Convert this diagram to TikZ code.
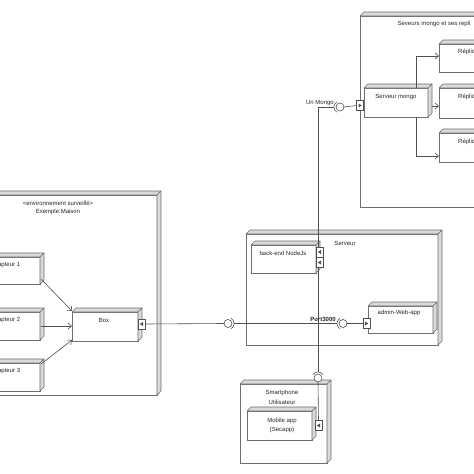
\documentclass[tikz,border=0pt]{standalone}
\usepackage{fontspec}
\setmainfont{Liberation Sans}
\usetikzlibrary{arrows.meta}
\definecolor{edgec}{HTML}{6E6E6E}
\definecolor{facec}{HTML}{DADADA}
\definecolor{wirec}{HTML}{505050}
\tikzset{
 umlbox/.style={draw=edgec, fill=white, line width=0.6pt, inner sep=0pt, outer sep=0pt, anchor=north west},
 face/.style={draw=edgec, fill=facec, line width=0.6pt, line join=round},
 lbl/.style={font=\fontsize{6}{7}\selectfont, text=black!85, inner sep=0pt},
 wire/.style={draw=wirec, line width=0.6pt},
 arr/.style={wire, -{Straight Barb[length=3.5pt,width=6pt]}},
 portbox/.style={draw=wirec, fill=white, line width=0.6pt, minimum width=7pt, minimum height=10pt, inner sep=0pt, outer sep=0pt},
 ball/.style={draw=wirec, fill=white, line width=0.6pt, circle, minimum size=8pt, inner sep=0pt, outer sep=0pt},
}
\newcommand\umlnode[6][4]{%
 \node[umlbox, minimum width=#5pt, minimum height=#6pt] (#2) at (#3,#4) {};
 \draw[face] (#2.north west) -- ++(#1pt,#1pt) -- ([shift={(#1pt,#1pt)}]#2.north east) -- (#2.north east) -- cycle;
 \draw[face] (#2.north east) -- ++(#1pt,#1pt) -- ([shift={(#1pt,#1pt)}]#2.south east) -- (#2.south east) -- cycle;
}
\newcommand\portR[3]{%
 \node[portbox] (#1) at (#2,#3) {};
 \fill[wirec] ([shift={(-1.5pt,2pt)}]#1.center) -- ([shift={(-1.5pt,-2pt)}]#1.center) -- ([shift={(1.8pt,0pt)}]#1.center) -- cycle;}
\newcommand\portL[3]{%
 \node[portbox] (#1) at (#2,#3) {};
 \fill[wirec] ([shift={(1.5pt,2pt)}]#1.center) -- ([shift={(1.5pt,-2pt)}]#1.center) -- ([shift={(-1.8pt,0pt)}]#1.center) -- cycle;}
\begin{document}
\begin{tikzpicture}[x=1pt,y=-1pt]
\useasboundingbox (0,0) rectangle (474,474);
\clip (0,0) rectangle (474,474);
\fill[white] (0,0) rectangle (474,474);
% containers
\umlnode{env}{-41}{195}{198}{200}
\umlnode{serveur}{246}{234}{192}{111}
\umlnode{mongo}{360}{16}{180}{191}
\umlnode{phone}{240}{384}{87}{79}
% inner nodes
\umlnode{cap1}{-26}{257}{66}{27}
\umlnode{cap2}{-26}{312}{66}{28}
\umlnode{cap3}{-26}{363}{66}{28}
\umlnode{box}{72}{312}{66}{29}
\umlnode{backend}{251}{245}{65}{28}
\umlnode{admin}{368}{306}{65}{27}
\umlnode{smongo}{364}{88}{64}{29}
\umlnode{rep1}{439}{44}{66}{28}
\umlnode{rep2}{439}{88}{66}{30}
\umlnode{rep3}{439}{133}{66}{29}
\umlnode{mobile}{247}{411}{65}{29}
% labels
\node[lbl] (tenv1) at (58,203) {<environnement surveillé>};
\node[lbl] (tenv2) at (58,212) {Exemple:Maison};
\node[lbl] (tcap1) at (7,265) {Capteur 1};
\node[lbl] (tcap2) at (7,320) {Capteur 2};
\node[lbl] (tcap3) at (7,371) {Capteur 3};
\node[lbl] (tbox) at (104,320) {Box};
\node[lbl] (tserv) at (345,243) {Serveur};
\node[lbl] (tback) at (283,253) {back-end NodeJs};
\node[lbl] (tadmin) at (399,313) {admin-Web-app};
\node[lbl] (tmongo) at (434,24) {Seveurs mongo et ses repli};
\node[lbl] (tsm) at (396,97) {Serveur mongo};
\node[lbl, anchor=west] (trep1) at (458,52) {Réplic};
\node[lbl, anchor=west] (trep2) at (458,97) {Réplic};
\node[lbl, anchor=west] (trep3) at (458,142) {Réplic};
\node[lbl] (tph1) at (282,393) {Smartphone};
\node[lbl] (tph2) at (282,402) {Utilisateur};
\node[lbl] (tmob1) at (282,421) {Mobile app};
\node[lbl] (tmob2) at (282,430) {(Secapp)};
% arrows inside environment
\draw[arr] ([shift={(1pt,5pt)}]cap1.south east) -- ([yshift=1pt]box.north west);
\draw[arr] ([xshift=1pt]cap2.east) -- (cap2.east -| box.west);
\draw[arr] ([shift={(1pt,-1pt)}]cap3.north east) -- ([yshift=1pt]box.south west);
% arrows mongo -> replicas
\coordinate (m1) at (416,88);
\coordinate (m2) at (416,117);
\coordinate (r1) at (439,56);
\coordinate (r2a) at (432,106);
\coordinate (r2) at (439,106);
\coordinate (r3) at (439,156);
\draw[arr] (m1) |- (r1);
\draw[arr] (r2a) -- (r2);
\draw[arr] (m2) |- (r3);
% balls
\node[ball] (ball1) at (228,323.5) {};
\node[ball] (ball2) at (343,323.5) {};
\node[ball] (ball3) at (340,107) {};
\node[ball] (ball4) at (318,378) {};
\coordinate (s1) at ([xshift=6pt]ball1.center);
\coordinate (s2) at ([xshift=-6pt]ball2.center);
\coordinate (s3) at ([xshift=-6pt]ball3.center);
\coordinate (s4) at ([yshift=6pt]ball4.center);
\coordinate (j) at (318,107);
\draw[wire] ([shift={(-60:6pt)}]ball1.center) arc[start angle=-60, end angle=60, radius=6pt];
\draw[wire] ([shift={(120:6pt)}]ball2.center) arc[start angle=120, end angle=240, radius=6pt];
\draw[wire] ([shift={(120:6pt)}]ball3.center) arc[start angle=120, end angle=240, radius=6pt];
\draw[wire] ([shift={(30:6pt)}]ball4.center) arc[start angle=30, end angle=150, radius=6pt];
% wires
\draw[wire] (j) -- (s4);
\draw[wire] (j) -- (s3);
\draw[wire] (s1) -- (s2);
% ports
\portL{boxport}{141.5}{324}
\portL{bport1}{319.5}{252}
\portL{bport2}{319.5}{262.5}
\portR{aport}{366.5}{323.5}
\portR{mport}{360}{105.5}
\portL{mobport}{318.5}{425.5}
\draw[wire] (boxport.east) -- (ball1.west);
\draw[wire] (ball2.east) -- (aport.west);
\draw[wire] (ball3.east) -- (mport.west);
\draw[wire] (ball4.south) -- (mobport.north);
\node[lbl, anchor=south, font=\bfseries\fontsize{6}{7}\selectfont] (tport) at (323,322) {Port3000};
\node[lbl, anchor=south] (turi) at (320,106) {Uri Mongo};
\end{tikzpicture}
\end{document}
